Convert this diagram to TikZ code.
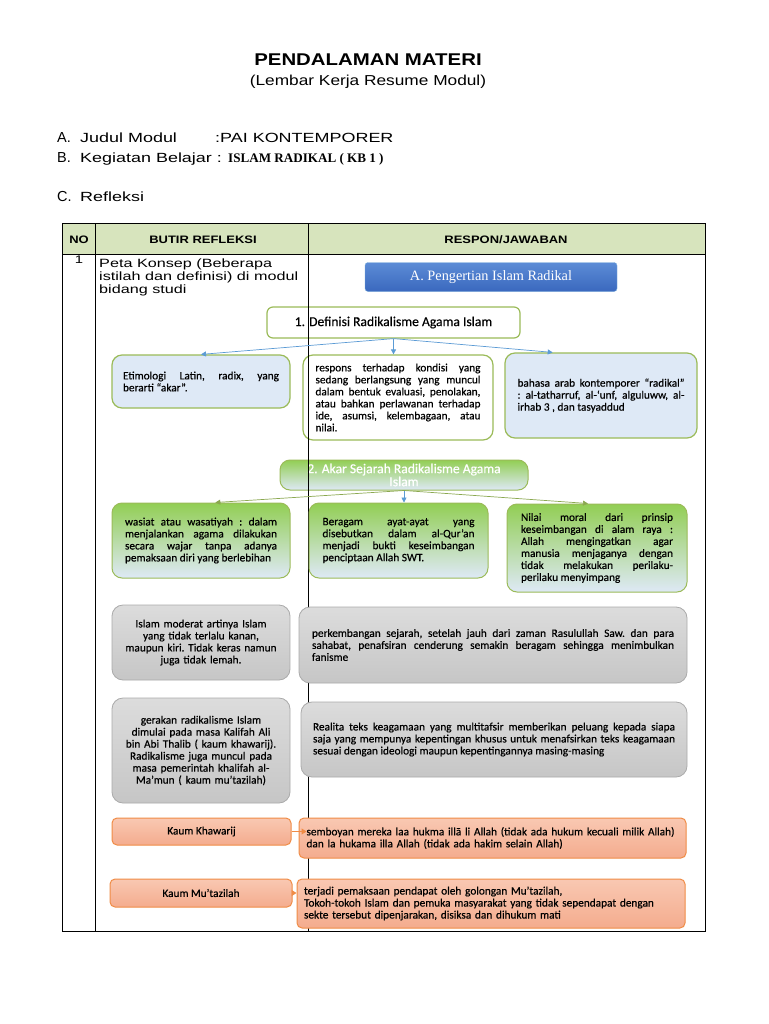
\documentclass[tikz,border=0pt]{standalone}
\usepackage{fontspec}
\setmainfont{Liberation Sans}
\newfontfamily\widefont{Liberation Sans}[FakeStretch=1.35]
\newfontfamily\titlefont{Liberation Sans}[FakeStretch=1.2]
\newfontfamily\boxfont{Carlito}[FakeBold=0.5]
\newfontfamily\serifhead{Liberation Serif}
\usetikzlibrary{positioning,arrows.meta,calc}
\definecolor{tablegreen}{RGB}{215,228,189}
\definecolor{linegreen}{RGB}{155,187,89}
\definecolor{paleblue}{RGB}{222,233,246}
\definecolor{midblue}{RGB}{135,182,240}
\definecolor{arrowblue}{RGB}{91,155,213}
\definecolor{headtop}{RGB}{92,140,214}
\definecolor{headbot}{RGB}{58,104,190}
\definecolor{leafgreen}{RGB}{146,206,84}
\definecolor{greytop}{RGB}{220,220,220}
\definecolor{greybot}{RGB}{198,198,198}
\definecolor{greyline}{RGB}{170,170,170}
\definecolor{peachtop}{RGB}{249,200,178}
\definecolor{peachbot}{RGB}{244,172,142}
\definecolor{orangeline}{RGB}{240,140,70}
\newcommand{\boxtext}{\boxfont\fontsize{11.3}{12}\selectfont\frenchspacing\tolerance=10000 \hyphenpenalty=10000}

\begin{document}
\begin{tikzpicture}[x=1pt,y=-1pt,
  every node/.style={inner sep=0pt},
  bluehead/.style={draw=arrowblue!80, rounded corners=3pt, top color=headtop, bottom color=headbot,
    text=white, font=\serifhead\fontsize{14.3}{16}\selectfont},
  defbox/.style={draw=linegreen, line width=1.2pt, rounded corners=6pt, fill=white,
    font=\boxfont\fontsize{13.6}{15}\selectfont},
  bluebox/.style={draw=linegreen, line width=1.2pt, rounded corners=10pt,
    left color=paleblue, middle color=midblue, right color=paleblue, align=justify, font=\boxtext},
  whitebox/.style={draw=linegreen, line width=1.2pt, rounded corners=10pt, fill=white,
    align=justify, font=\boxtext},
  greenbox/.style={draw=linegreen, line width=1pt, rounded corners=10pt,
    top color=leafgreen, bottom color=paleblue, align=justify, font=\boxtext},
  greybox/.style={draw=greyline, line width=0.8pt, rounded corners=11pt,
    top color=greytop, bottom color=greybot, font=\boxtext},
  peachbox/.style={draw=orangeline, line width=1pt, rounded corners=5pt,
    top color=peachtop, bottom color=peachbot, font=\boxtext},
  maparrow/.style={arrowblue, line width=0.7pt, -{Triangle[length=5pt,width=5pt]}},
  greenarrow/.style={linegreen!90!black, line width=0.7pt, -{Triangle[length=5pt,width=5pt]}},
  orangearrow/.style={orangeline, line width=1pt, -{Triangle[length=5pt,width=6pt]}}]

  \fill[white] (0,0) rectangle (768,1024);
  \useasboundingbox (0,0) rectangle (768,1024);

  % judul halaman
  \node (title) at (368,60) {\titlefont\fontsize{17}{20}\selectfont\bfseries PENDALAMAN MATERI};
  \node (subtitle) at (368,82) {\titlefont\fontsize{14.4}{17}\selectfont (Lembar Kerja Resume Modul)};

  \node[anchor=base west] (lblA) at (57,142.7) {\fontsize{14.5}{16}\selectfont A.};
  \node[anchor=base west] (judul) at (80,142.7) {\widefont\fontsize{13.3}{16}\selectfont Judul Modul};
  \node[anchor=base west] (judulval) at (215,142.7) {\widefont\fontsize{13.3}{16}\selectfont :PAI KONTEMPORER};
  \node[anchor=base west] (lblB) at (57,163) {\fontsize{14.5}{16}\selectfont B.};
  \node[anchor=base west] (kegiatan) at (80,163) {\widefont\fontsize{13.3}{16}\selectfont Kegiatan Belajar :};
  \node[anchor=base west] (kegiatanval) at (228,163) {\serifhead\fontsize{13.1}{16}\selectfont\bfseries ISLAM RADIKAL ( KB 1 )};
  \node[anchor=base west] (lblC) at (57,201.5) {\fontsize{14.5}{16}\selectfont C.};
  \node[anchor=base west] (refleksi) at (80,201.5) {\widefont\fontsize{13.3}{16}\selectfont Refleksi};

  % tabel
  \fill[tablegreen] (62,224) rectangle (705,254);
  \node (colno) at (79,239.5) {\titlefont\fontsize{10.8}{13}\selectfont\bfseries NO};
  \node (colbutir) at (203,239.5) {\titlefont\fontsize{10.8}{13}\selectfont\bfseries BUTIR REFLEKSI};
  \node (colrespon) at (506,239.5) {\titlefont\fontsize{10.8}{13}\selectfont\bfseries RESPON/JAWABAN};
  \node (rowno) at (79,260) {\widefont\fontsize{11}{13}\selectfont 1};
  \node[anchor=north west, align=left, font=\widefont\fontsize{12}{13}\selectfont] (butir) at (99,258.5)
    {Peta Konsep (Beberapa\\istilah dan definisi) di modul\\bidang studi};

  % peta konsep (bagian yang tertimpa garis tabel)
  \node[bluehead, minimum width=252, minimum height=29] (pengertian) at (491,277) {A. Pengertian Islam Radikal};
  \node[defbox, minimum width=253, minimum height=31] (definisi) at (393.5,322.5) {1. Definisi Radikalisme Agama Islam};
  \node[whitebox, minimum width=190, minimum height=85, text width=165] (respons) at (398,397.5)
    {respons terhadap kondisi yang\linebreak sedang berlangsung yang muncul\linebreak dalam bentuk evaluasi, penolakan,\linebreak atau bahkan perlawanan terhadap\linebreak ide, asumsi, kelembagaan, atau\linebreak nilai.};
  \node[greenbox, minimum width=248, minimum height=30, align=center, text=white,
    font=\boxfont\fontsize{13.6}{13}\selectfont] (akar) at (404,475) {2. Akar Sejarah Radikalisme Agama\\Islam};

  \draw[line width=1pt] (62,224) rectangle (705,931);
  \draw[line width=1pt] (62,254) -- (705,254);
  \draw[line width=1pt] (95,224) -- (95,931);
  \draw[line width=1pt] (308,224) -- (308,931);

  % peta konsep
  \node[bluebox, minimum width=178, minimum height=53, text width=156] (etimologi) at (201,381.5)
    {Etimologi Latin, radix, yang\linebreak berarti “akar”.};
  \node[bluebox, minimum width=192, minimum height=85, text width=167] (bahasa) at (601,395.5)
    {bahasa arab kontemporer “radikal”\linebreak : al-tatharruf, al-‘unf, alguluww, al-\linebreak irhab 3 , dan tasyaddud};
  \draw[maparrow] (definisi.south) -- (etimologi.north);
  \draw[maparrow] (definisi.south) -- (definisi.south |- respons.north);
  \draw[maparrow] (definisi.south) -- ($(bahasa.north west)!0.25!(bahasa.north east)$);

  \node[greenbox, minimum width=178, minimum height=75, text width=152] (wasiat) at (201,540.5)
    {wasiat atau wasatiyah : dalam\linebreak menjalankan agama dilakukan\linebreak secara wajar tanpa adanya\linebreak pemaksaan diri yang berlebihan};
  \node[greenbox, minimum width=179, minimum height=75, text width=152] (beragam) at (398.5,540.5)
    {Beragam ayat-ayat yang\linebreak disebutkan dalam al-Qur’an\linebreak menjadi bukti keseimbangan\linebreak penciptaan Allah SWT.};
  \node[greenbox, minimum width=180, minimum height=88, text width=152] (nilai) at (597,548)
    {Nilai moral dari prinsip\linebreak keseimbangan di alam raya :\linebreak Allah mengingatkan agar\linebreak manusia menjaganya dengan\linebreak tidak melakukan perilaku-\linebreak perilaku menyimpang};
  \draw[greenarrow] (akar.south) -- ($(wasiat.north west)!0.58!(wasiat.north east)$);
  \draw[maparrow] (akar.south) -- (akar.south |- beragam.north);
  \draw[greenarrow] (akar.south) -- ($(nilai.north west)!0.45!(nilai.north east)$);

  \node[greybox, minimum width=178, minimum height=75, text width=164, align=center] (moderat) at (201,642.5)
    {Islam moderat artinya Islam\\yang tidak terlalu kanan,\\maupun kiri. Tidak keras namun\\juga tidak lemah.};
  \node[greybox, minimum width=388, minimum height=76, text width=362, align=justify] (perkembangan) at (493,645)
    {perkembangan sejarah, setelah jauh dari zaman Rasulullah Saw. dan para\linebreak sahabat, penafsiran cenderung semakin beragam sehingga menimbulkan\linebreak fanisme};
  \node[greybox, minimum width=178, minimum height=105, text width=164, align=center] (gerakan) at (201,750.5)
    {gerakan radikalisme Islam\\dimulai pada masa Kalifah Ali\\bin Abi Thalib ( kaum khawarij).\\Radikalisme juga muncul pada\\masa pemerintah khalifah al-\\Ma’mun ( kaum mu’tazilah)};
  \node[greybox, minimum width=386, minimum height=75, text width=362, align=justify] (realita) at (494,739.5)
    {Realita teks keagamaan yang multitafsir memberikan peluang kepada siapa\linebreak saja yang mempunya kepentingan khusus untuk menafsirkan teks keagamaan\linebreak sesuai dengan ideologi maupun kepentingannya masing-masing};

  \node[peachbox, minimum width=179, minimum height=27] (khawarij) at (201.5,831.5) {Kaum Khawarij};
  \node[peachbox, minimum width=387, minimum height=40, text width=372, align=left] (semboyan) at (492.5,838)
    {semboyan mereka laa hukma illā li Allah (tidak ada hukum kecuali milik Allah)\\dan la hukama illa Allah (tidak ada hakim selain Allah)};
  \node[peachbox, minimum width=182, minimum height=28] (mutazilah) at (201,893) {Kaum Mu’tazilah};
  \node[peachbox, minimum width=388, minimum height=49, text width=374, align=left] (terjadi) at (491,903.5)
    {terjadi pemaksaan pendapat oleh golongan Mu’tazilah,\\Tokoh-tokoh Islam dan pemuka masyarakat yang tidak sependapat dengan\\sekte tersebut dipenjarakan, disiksa dan dihukum mati};
  \draw[orangearrow] (khawarij.east) -- ($(khawarij.east -| semboyan.west)+(8,0)$);
  \draw[orangearrow] (mutazilah.east) -- (mutazilah.east -| terjadi.west);
\end{tikzpicture}
\end{document}
